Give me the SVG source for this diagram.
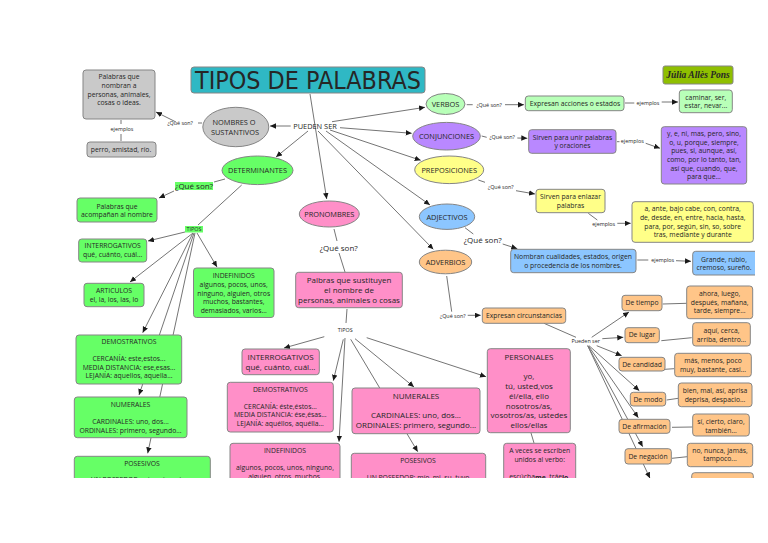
<svg xmlns="http://www.w3.org/2000/svg" width="768" height="543" viewBox="0 0 768 543">
<style>
text{font-family:"Open Sans","DejaVu Sans",sans-serif;font-size:6.8px;fill:#262626;text-anchor:middle;dominant-baseline:central}
.s5{font-size:5.4px}.s8{font-size:8px}.s75{font-size:7.4px}
.n rect,.n ellipse{stroke:#858585;stroke-width:1}
.gray rect,.gray ellipse{fill:#c9c9c9}.green rect,.green ellipse{fill:#66ff66}.pink rect,.pink ellipse{fill:#ff8fc8}
.lgreen rect,.lgreen ellipse{fill:#b8ffb8}.purple rect,.purple ellipse{fill:#b988ff}.yellow rect,.yellow ellipse{fill:#ffff88}
.blue rect,.blue ellipse{fill:#8cc6ff}.orange rect,.orange ellipse{fill:#ffc588}
#conn line{stroke:#757575;stroke-width:1}
#conn line.a{marker-end:url(#ah)}
</style>
<defs>
<marker id="ah" markerUnits="userSpaceOnUse" markerWidth="7" markerHeight="6" refX="6" refY="2.75" orient="auto"><path d="M0 0L6 2.75L0 5.5Z" fill="#1a1a1a"/></marker>
<clipPath id="crop"><rect x="0" y="0" width="755" height="478"/></clipPath>
</defs>
<g clip-path="url(#crop)">
<g id="conn">
<line x1="310" y1="94" x2="326.7" y2="199" class="a"/>
<line x1="290.7" y1="126" x2="270" y2="126" class="a"/>
<line x1="308" y1="131" x2="276" y2="157" class="a"/>
<line x1="202" y1="123" x2="198" y2="123"/>
<line x1="176" y1="122" x2="156" y2="112" class="a"/>
<line x1="121" y1="120" x2="121" y2="124"/>
<line x1="121" y1="134" x2="121" y2="141"/>
<line x1="225" y1="179" x2="214" y2="182"/>
<line x1="174" y1="191" x2="159" y2="198" class="a"/>
<line x1="241.7" y1="185" x2="198" y2="225"/>
<line x1="185" y1="232" x2="148" y2="241" class="a"/>
<line x1="197" y1="233" x2="217" y2="267" class="a"/>
<line x1="193" y1="233" x2="130" y2="282" class="a"/>
<line x1="193" y1="233" x2="142.7" y2="332.7" class="a"/>
<line x1="194" y1="233" x2="139" y2="395" class="a"/>
<line x1="195" y1="233" x2="147.7" y2="453.3" class="a"/>
<line x1="334" y1="229" x2="337" y2="241"/>
<line x1="339" y1="253" x2="345" y2="272"/>
<line x1="347" y1="309" x2="346" y2="323"/>
<line x1="324.3" y1="336.7" x2="284" y2="348" class="a"/>
<line x1="343.3" y1="339.3" x2="333.3" y2="380.7" class="a"/>
<line x1="345" y1="338" x2="339" y2="441.7" class="a"/>
<line x1="350.7" y1="339.3" x2="417.7" y2="451.7" class="a"/>
<line x1="355" y1="338.7" x2="414" y2="387" class="a"/>
<line x1="366.7" y1="337.7" x2="486" y2="376.7" class="a"/>
<line x1="531" y1="433" x2="534" y2="443"/>
<line x1="332" y1="121.7" x2="425" y2="107.3" class="a"/>
<line x1="466.7" y1="104.7" x2="472.7" y2="104.7"/>
<line x1="505" y1="104.7" x2="524" y2="104.7" class="a"/>
<line x1="625" y1="103" x2="634.3" y2="103"/>
<line x1="661.7" y1="102" x2="678" y2="102" class="a"/>
<line x1="340" y1="127.7" x2="411.7" y2="133.3" class="a"/>
<line x1="481.7" y1="136" x2="486.7" y2="137.3"/>
<line x1="517.3" y1="138" x2="527.3" y2="138.3" class="a"/>
<line x1="617" y1="141.7" x2="619.5" y2="141.7"/>
<line x1="645.7" y1="143.3" x2="660" y2="148.3" class="a"/>
<line x1="330" y1="130" x2="420.7" y2="160.3" class="a"/>
<line x1="478.3" y1="180" x2="485" y2="182.3"/>
<line x1="516" y1="190.7" x2="535" y2="194" class="a"/>
<line x1="588.3" y1="213.3" x2="597.3" y2="220"/>
<line x1="617.3" y1="223.3" x2="630.7" y2="223.3" class="a"/>
<line x1="326" y1="131" x2="430" y2="205" class="a"/>
<line x1="465" y1="227.7" x2="473.3" y2="234"/>
<line x1="502.7" y1="244" x2="517.3" y2="248.7" class="a"/>
<line x1="637.3" y1="260" x2="648.3" y2="260"/>
<line x1="676" y1="260.7" x2="691" y2="261.3" class="a"/>
<line x1="318" y1="131" x2="433.3" y2="249.3" class="a"/>
<line x1="446.7" y1="276" x2="451.7" y2="311.7"/>
<line x1="467.7" y1="315.3" x2="480.7" y2="315.3" class="a"/>
<line x1="544" y1="323.3" x2="576" y2="337.3"/>
<line x1="591.7" y1="337.3" x2="629" y2="312" class="a"/>
<line x1="602.3" y1="338.7" x2="623.3" y2="337.3" class="a"/>
<line x1="596.7" y1="345.7" x2="621.7" y2="355.7" class="a"/>
<line x1="589" y1="345.7" x2="639.3" y2="390.7" class="a"/>
<line x1="588.3" y1="345.7" x2="638.3" y2="417.7" class="a"/>
<line x1="587.7" y1="345.7" x2="642.7" y2="446.7" class="a"/>
<line x1="587.7" y1="345.7" x2="650" y2="478.3" class="a"/>
<line x1="662.7" y1="304" x2="686.7" y2="303.3"/>
<line x1="661.3" y1="340.7" x2="691.7" y2="337.7"/>
<line x1="665" y1="369.3" x2="674" y2="368.7"/>
<line x1="666.7" y1="400" x2="678.3" y2="398.3"/>
<line x1="672" y1="427.3" x2="692.7" y2="427"/>
<line x1="672" y1="458.3" x2="687.3" y2="456.7"/>
</g>
<text x="180" y="123" class="s5">¿Qué son?</text>
<text x="122" y="129" class="s5">ejemplos</text>
<text x="315" y="125.6" class="s75">PUEDEN SER</text>
<text x="338.7" y="247.3" class="s8">¿Qué son?</text>
<text x="345.3" y="330.3" class="s5">TIPOS</text>
<text x="489" y="105.3" class="s5">¿Qué son?</text>
<text x="648" y="102.7" class="s5">ejemplos</text>
<text x="502" y="137" class="s5">¿Qué son?</text>
<text x="632.3" y="141.3" class="s5">ejemplos</text>
<text x="500.7" y="187.3" class="s5">¿Qué son?</text>
<text x="603.7" y="224" class="s5">ejemplos</text>
<text x="482.7" y="239.7" class="s8">¿Qué son?</text>
<text x="662.7" y="259.7" class="s5">ejemplos</text>
<text x="452.7" y="315.7" class="s5">¿Qué son?</text>
<text x="585.7" y="341" class="s5">Pueden ser</text>

<g id="title" class="n"><rect x="191" y="67" width="234" height="26" rx="3" fill="#2fb8c4"/><text x="308" y="80.5" style="font-family:'DejaVu Sans',sans-serif;font-size:25px" textLength="226" lengthAdjust="spacingAndGlyphs">TIPOS DE PALABRAS</text></g>
<g id="firma" class="n"><rect x="663" y="66" width="70" height="18" rx="2" fill="#8fbf00"/><text x="698" y="75" style="font-family:'Liberation Serif',serif;font-style:italic;font-weight:bold;font-size:9.5px">Júlia Allès Pons</text></g>

<g id="sust-def" class="n gray"><rect x="83" y="70" width="72" height="49" rx="3"/><text x="119" y="76.7">Palabras que</text><text x="119" y="85.3">nombran a</text><text x="119" y="94">personas, animales,</text><text x="119" y="102.7">cosas o ideas.</text></g>
<g id="sust-ej" class="n gray"><rect x="87" y="142" width="69" height="15" rx="3"/><text x="121" y="149.5">perro, amistad, río.</text></g>
<g id="sustantivos" class="n gray"><ellipse cx="235.8" cy="127" rx="33" ry="19.7"/><text x="234" y="122" class="s75">NOMBRES O</text><text x="235" y="132" class="s75">SUSTANTIVOS</text></g>

<g id="determinantes" class="n green"><ellipse cx="257.5" cy="170.3" rx="35.5" ry="14.3"/><text x="257.5" y="170.3" class="s75">DETERMINANTES</text></g>
<g id="det-q"><rect x="175" y="182" width="38" height="8" fill="#66ff66"/><text x="194" y="185.5" class="s8">¿Qué son?</text></g>
<g id="det-tipos"><rect x="185" y="226" width="18" height="6.5" fill="#66ff66"/><text x="194" y="229" class="s5">TIPOS</text></g>
<g id="det-def" class="n green"><rect x="77" y="198" width="80" height="24" rx="3"/><text x="117" y="206">Palabras que</text><text x="117" y="214.5">acompañan al nombre</text></g>
<g id="det-interrog" class="n green"><rect x="78.7" y="239" width="68" height="23" rx="3"/><text x="112.7" y="245.5">INTERROGATIVOS</text><text x="112.7" y="254.5">qué, cuánto, cuál...</text></g>
<g id="det-indef" class="n green"><rect x="193.5" y="268" width="80.5" height="49.5" rx="3"/><text x="233.7" y="275.7">INDEFINIDOS</text><text x="233.7" y="284.3">algunos, pocos, unos,</text><text x="233.7" y="293">ninguno, alguien, otros</text><text x="233.7" y="301.7">muchos, bastantes,</text><text x="233.7" y="310">demasiados, varios...</text></g>
<g id="det-art" class="n green"><rect x="84" y="283.3" width="60" height="23.4" rx="3"/><text x="114" y="290">ARTICULOS</text><text x="114" y="299">el, la, los, las, lo</text></g>
<g id="det-dem" class="n green"><rect x="76" y="335" width="105.7" height="49" rx="3"/><text x="129" y="341.3">DEMOSTRATIVOS</text><text x="129" y="358.3">CERCANÍA: este,estos...</text><text x="129" y="367">MEDIA DISTANCIA: ese,esas...</text><text x="129" y="375.3">LEJANÍA: aquellos, aquella...</text></g>
<g id="det-num" class="n green"><rect x="74.3" y="397" width="112.7" height="40.7" rx="3"/><text x="130.5" y="404">NUMERALES</text><text x="130.5" y="421.3">CARDINALES: uno, dos...</text><text x="130.5" y="430">ORDINALES: primero, segundo...</text></g>
<g id="det-pos" class="n green"><rect x="74.3" y="456.3" width="136" height="40" rx="3"/><text x="142" y="463">POSESIVOS</text><text x="142" y="479.5">UN POSEEDOR: mío, mi, su, tuyo</text></g>

<g id="pronombres" class="n pink"><ellipse cx="329.3" cy="214" rx="30" ry="13"/><text x="329.3" y="214" class="s75">PRONOMBRES</text></g>
<g id="pro-def" class="n pink"><rect x="295.7" y="272.3" width="106.6" height="35.4" rx="3"/><text x="349" y="279.7" class="s8">Palbras que sustituyen</text><text x="349" y="289.3" class="s8">el nombre de</text><text x="349" y="299.3" class="s8">personas, animales o cosas</text></g>
<g id="pro-interrog" class="n pink"><rect x="242" y="349" width="77.3" height="25.7" rx="3"/><text x="280.5" y="356.3" class="s8">INTERROGATIVOS</text><text x="280.5" y="366.7" class="s8">qué, cuánto, cuál...</text></g>
<g id="pro-dem" class="n pink"><rect x="227.3" y="382.3" width="106" height="49.7" rx="3"/><text x="280.3" y="389">DEMOSTRATIVOS</text><text x="280.3" y="406">CERCANÍA: éste,éstos...</text><text x="280.3" y="414.7">MEDIA DISTANCIA: ése,ésas...</text><text x="280.3" y="423.3">LEJANÍA: aquéllos, aquélla...</text></g>
<g id="pro-indef" class="n pink"><rect x="230" y="443.3" width="110" height="50" rx="3"/><text x="285" y="450.3">INDEFINIDOS</text><text x="285" y="467.3">algunos, pocos, unos, ninguno,</text><text x="285" y="476">alguien, otros, muchos,</text></g>
<g id="pro-num" class="n pink"><rect x="352" y="388" width="128" height="45.7" rx="3"/><text x="416" y="395" class="s8">NUMERALES</text><text x="416" y="414.7" class="s8">CARDINALES: uno, dos...</text><text x="416" y="424.7" class="s8">ORDINALES: primero, segundo...</text></g>
<g id="pro-pos" class="n pink"><rect x="351.3" y="453.3" width="134.4" height="40" rx="3"/><text x="418" y="460.7">POSESIVOS</text><text x="418" y="477.3">UN POSEEDOR: mío, mi, su, tuyo</text></g>
<g id="pro-pers" class="n pink"><rect x="487.3" y="348.7" width="83" height="84" rx="3"/><text x="529" y="356" class="s8">PERSONALES</text><text x="529" y="375.7" class="s8">yo,</text><text x="529" y="385.3" class="s8">tú, usted,vos</text><text x="529" y="395" class="s8">él/ella, ello</text><text x="529" y="405" class="s8">nosotros/as,</text><text x="529" y="414.7" class="s8">vosotros/as, ustedes</text><text x="529" y="424.7" class="s8">ellos/ellas</text></g>
<g id="pro-veces" class="n pink"><rect x="503.7" y="443.3" width="72" height="50" rx="3"/><text x="539.7" y="450.7">A veces se escriben</text><text x="539.7" y="459.3">unidos al verbo:</text><text x="539.7" y="476.7">escúcha<tspan font-weight="bold">me</tspan>, tráe<tspan font-weight="bold">lo</tspan>,</text></g>

<g id="verbos" class="n lgreen"><ellipse cx="445.5" cy="104" rx="19.5" ry="10.5"/><text x="445.5" y="104" class="s75">VERBOS</text></g>
<g id="verb-def" class="n lgreen"><rect x="525.3" y="96" width="98.7" height="14.7" rx="3"/><text x="575" y="103">Expresan acciones o estados</text></g>
<g id="verb-ej" class="n lgreen"><rect x="679.3" y="90" width="53" height="22.7" rx="3"/><text x="705.8" y="97">caminar, ser,</text><text x="705.8" y="105.7">estar, nevar...</text></g>

<g id="conjunciones" class="n purple"><ellipse cx="446.5" cy="136.2" rx="33.8" ry="13.8"/><text x="446.5" y="136.2" class="s75">CONJUNCIONES</text></g>
<g id="conj-def" class="n purple"><rect x="528.7" y="129.7" width="87.3" height="23.6" rx="3"/><text x="572.5" y="137">Sirven para unir palabras</text><text x="572.5" y="145.5">y oraciones</text></g>
<g id="conj-ej" class="n purple"><rect x="661.3" y="126.7" width="85.4" height="57.3" rx="3"/><text x="704" y="133.3">y, e, ni, mas, pero, sino,</text><text x="704" y="142">o, u, porque, siempre,</text><text x="704" y="150.7">pues, si, aunque, así,</text><text x="704" y="159.3">como, por lo tanto, tan,</text><text x="704" y="168">así que, cuando, que,</text><text x="704" y="176.7">para que...</text></g>

<g id="preposiciones" class="n yellow"><ellipse cx="449.2" cy="169.8" rx="34.5" ry="13.8"/><text x="449.2" y="169.8" class="s75">PREPOSICIONES</text></g>
<g id="prep-def" class="n yellow"><rect x="536" y="189.3" width="69" height="23.4" rx="3"/><text x="570.5" y="196.3">Sirven para enlazar</text><text x="570.5" y="205">palabras</text></g>
<g id="prep-ej" class="n yellow"><rect x="632" y="201.7" width="121.3" height="40.6" rx="3"/><text x="692.7" y="208.7">a, ante, bajo cabe, con, contra,</text><text x="692.7" y="217.3">de, desde, en, entre, hacia, hasta,</text><text x="692.7" y="226">para, por, según, sin, so, sobre</text><text x="692.7" y="234.3">tras, mediante y durante</text></g>

<g id="adjetivos" class="n blue"><ellipse cx="447" cy="216.7" rx="27.7" ry="12.7"/><text x="447" y="216.7" class="s75">ADJECTIVOS</text></g>
<g id="adj-def" class="n blue"><rect x="510.7" y="249.3" width="125.3" height="23.4" rx="3"/><text x="573" y="256.3">Nombran cualidades, estados, origen</text><text x="573" y="265">o procedencia de los nombres.</text></g>
<g id="adj-ej" class="n blue"><rect x="692.7" y="251.3" width="70" height="23.7" rx="3"/><text x="724" y="259">Grande, rubio,</text><text x="724" y="267.3">cremoso, sureño.</text></g>

<g id="adverbios" class="n orange"><ellipse cx="445.5" cy="262" rx="26.2" ry="11.8"/><text x="445.5" y="262" class="s75">ADVERBIOS</text></g>
<g id="adv-def" class="n orange"><rect x="482.3" y="308" width="83.4" height="15.3" rx="3"/><text x="524" y="315">Expresan circunstancias</text></g>
<g id="adv-tiempo" class="n orange"><rect x="622" y="295.3" width="40" height="15.4" rx="3"/><text x="642" y="302.5">De tiempo</text></g>
<g id="adv-tiempo-ej" class="n orange"><rect x="686.7" y="286" width="66" height="32.7" rx="3"/><text x="719.7" y="293.3">ahora, luego,</text><text x="719.7" y="302">después, mañana,</text><text x="719.7" y="310.7">tarde, siempre...</text></g>
<g id="adv-lugar" class="n orange"><rect x="625" y="327.7" width="34.3" height="15" rx="3"/><text x="642" y="334.7">De lugar</text></g>
<g id="adv-lugar-ej" class="n orange"><rect x="692.7" y="322.7" width="57.6" height="23.3" rx="3"/><text x="721.5" y="330.7">aquí, cerca,</text><text x="721.5" y="339.3">arriba, dentro...</text></g>
<g id="adv-cant" class="n orange"><rect x="619" y="357.3" width="46" height="13.7" rx="3"/><text x="642" y="364">De candidad</text></g>
<g id="adv-cant-ej" class="n orange"><rect x="674.7" y="353.3" width="76.6" height="23.4" rx="3"/><text x="713" y="360.3">más, menos, poco</text><text x="713" y="369">muy, bastante, casi...</text></g>
<g id="adv-modo" class="n orange"><rect x="630.3" y="392.3" width="35.4" height="13.7" rx="3"/><text x="648" y="399">De modo</text></g>
<g id="adv-modo-ej" class="n orange"><rect x="678.3" y="383" width="73.7" height="23.7" rx="3"/><text x="715" y="390.3">bien, mal, así, aprisa</text><text x="715" y="399">deprisa, despacio...</text></g>
<g id="adv-afir" class="n orange"><rect x="619" y="419.3" width="51" height="14" rx="3"/><text x="644.5" y="426.3">De afirmación</text></g>
<g id="adv-afir-ej" class="n orange"><rect x="692.7" y="414" width="56.6" height="22" rx="3"/><text x="721" y="421.3">sí, cierto, claro,</text><text x="721" y="430">también...</text></g>
<g id="adv-neg" class="n orange"><rect x="625" y="448.7" width="46.3" height="15.3" rx="3"/><text x="648" y="456.3">De negación</text></g>
<g id="adv-neg-ej" class="n orange"><rect x="687.3" y="443.3" width="65.4" height="23.4" rx="3"/><text x="720" y="450.3">no, nunca, jamás,</text><text x="720" y="458.7">tampoco...</text></g>
<g id="adv-cut" class="n orange"><rect x="691.7" y="472.7" width="61.6" height="24" rx="3"/></g>
</g>
</svg>
